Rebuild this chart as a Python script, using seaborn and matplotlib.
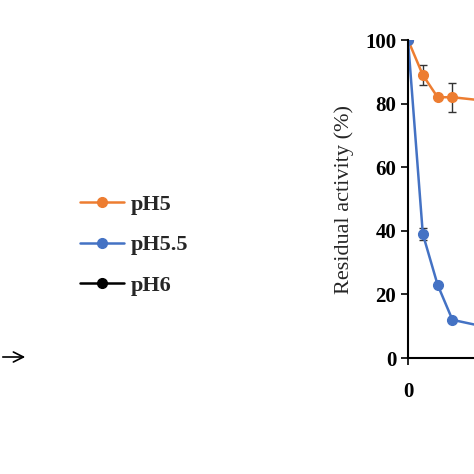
import numpy as np
import matplotlib
matplotlib.use('Agg')
import matplotlib.pyplot as plt
from matplotlib.lines import Line2D
import seaborn as sns

sns.set_style('ticks')
plt.rcParams['font.family'] = ['Liberation Serif', 'DejaVu Serif']
plt.rcParams['font.weight'] = 'bold'

# data (time points, residual activity %)
t = [0, 1, 2, 3, 5, 8, 12, 16]
ph5 = [100, 89, 82, 82, 81, 81, 81, 81]
ph5_err = [0, 3, 0, 4.5, 0, 0, 0, 0]
ph55 = [100, 39, 23, 12, 10, 9, 9, 9]
ph55_err = [0, 2, 0, 0, 0, 0, 0, 0]
labels = ['pH5', 'pH5.5', 'pH6']
colors = ['#ED7D31', '#4472C4', 'black']

fig = plt.figure(figsize=(4.74, 4.74), dpi=100)
ax = fig.add_axes([408 / 474, 116 / 474, 0.5, 318 / 474])

ax.errorbar(t, ph5, yerr=ph5_err, color=colors[0], marker='o', ms=7,
            lw=1.8, capsize=3, ecolor='#333333', elinewidth=1)
ax.errorbar(t, ph55, yerr=ph55_err, color=colors[1], marker='o', ms=7,
            lw=1.8, capsize=3, ecolor='#333333', elinewidth=1)

ax.set_xlim(0, 16)
ax.set_ylim(0, 100)
ax.set_yticks([0, 20, 40, 60, 80, 100])
ax.set_xticks([0])
ax.tick_params(labelsize=15, direction='out', length=5, width=1.2, colors='black')
ax.tick_params(axis='x', pad=12)
for s in ['left', 'bottom']:
    ax.spines[s].set_linewidth(1.5)
    ax.spines[s].set_color('black')
ax.spines['top'].set_visible(False)
ax.spines['right'].set_visible(False)
ax.set_ylabel('Residual activity (%)', fontsize=16, labelpad=8)

h = [Line2D([], [], color=c, marker='o', ms=7, lw=1.8) for c in colors]
fig.legend(h, labels, loc='center left', bbox_to_anchor=(60 / 474, 1 - 245 / 474),
           frameon=False, fontsize=16, handlelength=2.0, labelspacing=0.9,
           handletextpad=0.3)

# arrow fragment from neighbouring panel
fig.add_artist(matplotlib.patches.FancyArrowPatch((0.0, 1 - 357 / 474), (28 / 474, 1 - 357 / 474),
               transform=fig.transFigure, arrowstyle='->', mutation_scale=18, lw=1.2, color='black'))

fig.savefig('out.png', dpi=100)
